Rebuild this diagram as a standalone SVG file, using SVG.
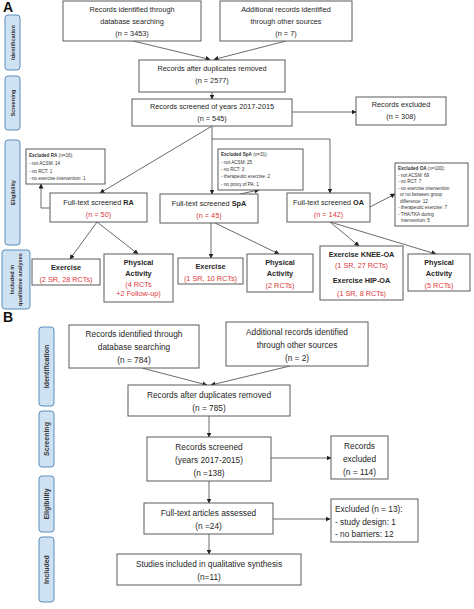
<svg xmlns="http://www.w3.org/2000/svg" width="474" height="609" viewBox="0 0 474 609">
<defs>
<style>
.bg{fill:#fff}
.box{fill:#fff;stroke:#5a5a5a;stroke-width:1}
.side{fill:#cfe2f3;stroke:#5b8db8;stroke-width:1}
.t{font-family:"Liberation Sans",Arial,sans-serif;font-size:7.3px;fill:#262626;text-anchor:middle}
.tb{font-family:"Liberation Sans",Arial,sans-serif;font-size:8.3px;fill:#262626;text-anchor:middle}
.tbl{font-family:"Liberation Sans",Arial,sans-serif;font-size:8.3px;fill:#262626;text-anchor:start}
.bold{font-weight:bold}
.red{fill:#e0383b}
.s{font-family:"Liberation Sans",Arial,sans-serif;font-size:4.6px;fill:#333}
.sl{font-family:"Liberation Sans",Arial,sans-serif;font-size:5.6px;font-weight:bold;fill:#333;text-anchor:middle}
.slb{font-family:"Liberation Sans",Arial,sans-serif;font-size:7px;font-weight:bold;fill:#333;text-anchor:middle}
.big{font-family:"Liberation Sans",Arial,sans-serif;font-size:14px;font-weight:bold;fill:#111}
.ln{fill:none;stroke:#444;stroke-width:0.8}
</style>
<marker id="ah" markerUnits="userSpaceOnUse" markerWidth="5" markerHeight="5" refX="4.5" refY="2.5" orient="auto">
<path d="M0,0 L5,2.5 L0,5 Z" fill="#222"/>
</marker>
</defs>
<rect class="bg" x="0" y="0" width="474" height="609"/>

<!-- Panel labels -->
<text class="big" x="3" y="12">A</text>
<text class="big" x="3" y="322">B</text>

<!-- Side bars A -->
<g id="sideA-identification"><rect class="side" x="5" y="15" width="15" height="55" rx="3"/><text class="sl" transform="translate(14.5,42.5) rotate(-90)">Identification</text></g>
<g id="sideA-screening"><rect class="side" x="5" y="76" width="15" height="54" rx="3"/><text class="sl" transform="translate(14.5,103) rotate(-90)">Screening</text></g>
<g id="sideA-eligibility"><rect class="side" x="5" y="140" width="15" height="105" rx="3"/><text class="sl" transform="translate(14.5,192.5) rotate(-90)">Eligibility</text></g>
<g id="sideA-included"><rect class="side" x="2" y="250" width="28" height="59" rx="3"/><text class="sl" transform="translate(14,279.5) rotate(-90)">Included in</text><text class="sl" transform="translate(22,279.5) rotate(-90)">qualitative analyses</text></g>

<!-- Connectors -->
<g id="connectors">
<line class="ln" x1="133" y1="41" x2="210" y2="59.5" marker-end="url(#ah)"/>
<line class="ln" x1="286" y1="41" x2="214" y2="59.5" marker-end="url(#ah)"/>
<line class="ln" x1="212" y1="92" x2="212" y2="99" marker-end="url(#ah)"/>
<line class="ln" x1="292" y1="112" x2="356" y2="112" marker-end="url(#ah)"/>
<line class="ln" x1="212" y1="126" x2="100" y2="193" marker-end="url(#ah)"/>
<line class="ln" x1="212" y1="126" x2="212" y2="194" marker-end="url(#ah)"/>
<polyline class="ln" points="212,139 330,139 330,193" marker-end="url(#ah)"/>
<polyline class="ln" points="50,208 41,208 41,184" marker-end="url(#ah)"/>
<line class="ln" x1="240" y1="194" x2="259" y2="190" marker-end="url(#ah)"/>
<line class="ln" x1="370" y1="207" x2="395" y2="194" marker-end="url(#ah)"/>
<line class="ln" x1="97" y1="222" x2="70" y2="259" marker-end="url(#ah)"/>
<line class="ln" x1="97" y1="222" x2="138" y2="254" marker-end="url(#ah)"/>
<line class="ln" x1="211" y1="223" x2="211" y2="258" marker-end="url(#ah)"/>
<line class="ln" x1="215" y1="223" x2="279" y2="254" marker-end="url(#ah)"/>
<line class="ln" x1="330" y1="222" x2="359" y2="246" marker-end="url(#ah)"/>
<line class="ln" x1="330" y1="222" x2="436" y2="254" marker-end="url(#ah)"/>
<!-- B -->
<line class="ln" x1="142" y1="368" x2="207" y2="385" marker-end="url(#ah)"/>
<line class="ln" x1="290" y1="366" x2="211" y2="385" marker-end="url(#ah)"/>
<line class="ln" x1="209" y1="416" x2="209" y2="437" marker-end="url(#ah)"/>
<line class="ln" x1="271" y1="458" x2="331" y2="458" marker-end="url(#ah)"/>
<line class="ln" x1="209" y1="481" x2="209" y2="503" marker-end="url(#ah)"/>
<line class="ln" x1="273" y1="519" x2="330" y2="519" marker-end="url(#ah)"/>
<line class="ln" x1="209" y1="534" x2="209" y2="554" marker-end="url(#ah)"/>
</g>

<!-- Panel A nodes -->
<g id="a-db"><rect class="box" x="63" y="1" width="138" height="40"/><text class="t" x="132" y="12">Records identified through</text><text class="t" x="132" y="24">database searching</text><text class="t" x="132" y="36">(n = 3453)</text></g>
<g id="a-other"><rect class="box" x="220" y="1" width="132" height="40"/><text class="t" x="286" y="12">Additional records identified</text><text class="t" x="286" y="24">through other sources</text><text class="t" x="286" y="36">(n = 7)</text></g>
<g id="a-dup"><rect class="box" x="139" y="60" width="146" height="32"/><text class="t" x="212" y="71">Records after duplicates removed</text><text class="t" x="212" y="83">(n =  2577)</text></g>
<g id="a-screened"><rect class="box" x="132" y="99" width="160" height="27"/><text class="t" x="212" y="109">Records screened of years 2017-2015</text><text class="t" x="212" y="121">(n = 545)</text></g>
<g id="a-excluded"><rect class="box" x="356" y="97" width="90" height="28"/><text class="t" x="401" y="107">Records excluded</text><text class="t" x="401" y="119">(n = 308)</text></g>

<g id="a-exra"><rect class="box" x="26" y="149" width="79" height="35"/>
<text class="s" x="29" y="157"><tspan font-weight="bold">Excluded RA</tspan> (n=16):</text>
<text class="s red" x="29" y="165">- not ACSM: 14</text>
<text class="s" x="29" y="172.5">- no RCT: 1</text>
<text class="s" x="29" y="180">- no exercise intervention: 1</text></g>

<g id="a-exspa"><rect class="box" x="218" y="149" width="85" height="41"/>
<text class="s" x="221" y="156"><tspan font-weight="bold">Excluded SpA</tspan> (n=31):</text>
<text class="s red" x="221" y="163.5">- not ACSM: 25</text>
<text class="s" x="221" y="171">- no RCT: 3</text>
<text class="s" x="221" y="178">- therapeutic exercise: 2</text>
<text class="s" x="221" y="185.5">- no proxy of PA: 1</text></g>

<g id="a-exoa"><rect class="box" x="395" y="163" width="73" height="63"/>
<text class="s" x="398" y="170"><tspan font-weight="bold">Excluded OA</tspan> (n=100):</text>
<text class="s red" x="398" y="176.5">- not ACSM: 69</text>
<text class="s" x="398" y="183">- no RCT: 7</text>
<text class="s" x="398" y="189.5">- no exercise intervention</text>
<text class="s" x="400" y="196">or no between group</text>
<text class="s" x="400" y="202.5">difference: 12</text>
<text class="s" x="398" y="209">- therapeutic exercise: 7</text>
<text class="s" x="398" y="215.5">- THA/TKA during</text>
<text class="s" x="401" y="222">intervention: 5</text></g>

<g id="a-ra"><rect class="box" x="50" y="193" width="97" height="29"/><text class="t" x="98.5" y="205">Full-text screened <tspan font-weight="bold">RA</tspan></text><text class="t red" x="98.5" y="217">(n = 50)</text></g>
<g id="a-spa"><rect class="box" x="160" y="194" width="98" height="29"/><text class="t" x="209" y="206">Full-text screened <tspan font-weight="bold">SpA</tspan></text><text class="t red" x="209" y="218">(n = 45)</text></g>
<g id="a-oa"><rect class="box" x="287" y="193" width="83" height="29"/><text class="t" x="328.5" y="205">Full-text screened <tspan font-weight="bold">OA</tspan></text><text class="t red" x="328.5" y="217">(n = 142)</text></g>

<g id="a-ra-ex"><rect class="box" x="32" y="259" width="68" height="26"/><text class="t bold" x="66" y="270" font-size="8">Exercise</text><text class="t red" x="66" y="282">(2 SR, 28 RCTs)</text></g>
<g id="a-ra-pa"><rect class="box" x="104" y="254" width="69" height="48"/><text class="t bold" x="138.5" y="265" font-size="8">Physical</text><text class="t bold" x="138.5" y="276" font-size="8">Activity</text><text class="t red" x="138.5" y="287">(4 RCTs</text><text class="t red" x="138.5" y="296" font-size="4.8">+2 Follow-up)</text></g>
<g id="a-spa-ex"><rect class="box" x="178" y="258" width="65" height="26"/><text class="t bold" x="210.5" y="269" font-size="8">Exercise</text><text class="t red" x="210.5" y="281">(1 SR, 10 RCTs)</text></g>
<g id="a-spa-pa"><rect class="box" x="247" y="254" width="66" height="38"/><text class="t bold" x="280" y="265" font-size="8">Physical</text><text class="t bold" x="280" y="276" font-size="8">Activity</text><text class="t red" x="280" y="288">(2 RCTs)</text></g>
<g id="a-oa-ex"><rect class="box" x="320" y="246" width="83" height="54"/><text class="t bold" x="361.5" y="256.5" font-size="7.6">Exercise KNEE-OA</text><text class="t red" x="361.5" y="268">(1 SR, 27 RCTs)</text><text class="t bold" x="361.5" y="283" font-size="7.6">Exercise HIP-OA</text><text class="t red" x="361.5" y="296">(1 SR, 8 RCTs)</text></g>
<g id="a-oa-pa"><rect class="box" x="408" y="254" width="62" height="37"/><text class="t bold" x="439" y="265" font-size="8">Physical</text><text class="t bold" x="439" y="276" font-size="8">Activity</text><text class="t red" x="439" y="288">(5 RCTs)</text></g>

<!-- Side bars B -->
<g id="sideB-identification"><rect class="side" x="39" y="327" width="15" height="79" rx="3"/><text class="slb" transform="translate(49,366.5) rotate(-90)">Identification</text></g>
<g id="sideB-screening"><rect class="side" x="39" y="411" width="15" height="56" rx="3"/><text class="slb" transform="translate(49,439) rotate(-90)">Screening</text></g>
<g id="sideB-eligibility"><rect class="side" x="39" y="476" width="15" height="56" rx="3"/><text class="slb" transform="translate(49,504) rotate(-90)">Eligibility</text></g>
<g id="sideB-included"><rect class="side" x="39" y="537" width="15" height="65" rx="3"/><text class="slb" transform="translate(49,569.5) rotate(-90)">Included</text></g>

<!-- Panel B nodes -->
<g id="b-db"><rect class="box" x="69" y="325" width="130" height="43"/><text class="tb" x="134" y="337">Records identified through</text><text class="tb" x="134" y="350">database searching</text><text class="tb" x="134" y="363">(n = 784)</text></g>
<g id="b-other"><rect class="box" x="226" y="322" width="142" height="44"/><text class="tb" x="297" y="335">Additional records identified</text><text class="tb" x="297" y="348">through other sources</text><text class="tb" x="297" y="361">(n = 2)</text></g>
<g id="b-dup"><rect class="box" x="128" y="385" width="162" height="31"/><text class="tb" x="209" y="398">Records after duplicates removed</text><text class="tb" x="209" y="411">(n =  785)</text></g>
<g id="b-screened"><rect class="box" x="147" y="437" width="124" height="44"/><text class="tb" x="209" y="449.5">Records screened</text><text class="tb" x="209" y="462.5">(years 2017-2015)</text><text class="tb" x="209" y="475.5">(n =138)</text></g>
<g id="b-excluded"><rect class="box" x="331" y="436" width="57" height="43"/><text class="tb" x="359.5" y="448.5">Records</text><text class="tb" x="359.5" y="461.5">excluded</text><text class="tb" x="359.5" y="474.5">(n = 114)</text></g>
<g id="b-fulltext"><rect class="box" x="144" y="503" width="129" height="31"/><text class="tb" x="208.5" y="516">Full-text articles assessed</text><text class="tb" x="208.5" y="529">(n =24)</text></g>
<g id="b-exfull"><rect class="box" x="331" y="499" width="87" height="43"/><text class="tbl" x="335" y="511.5">Excluded (n = 13):</text><text class="tbl" x="335" y="524.5">- study design: 1</text><text class="tbl" x="335" y="536.5">- no barriers: 12</text></g>
<g id="b-included"><rect class="box" x="117" y="554" width="184" height="31"/><text class="tb" x="209" y="566.5">Studies included in qualitative synthesis</text><text class="tb" x="209" y="579.5">(n=11)</text></g>
</svg>
